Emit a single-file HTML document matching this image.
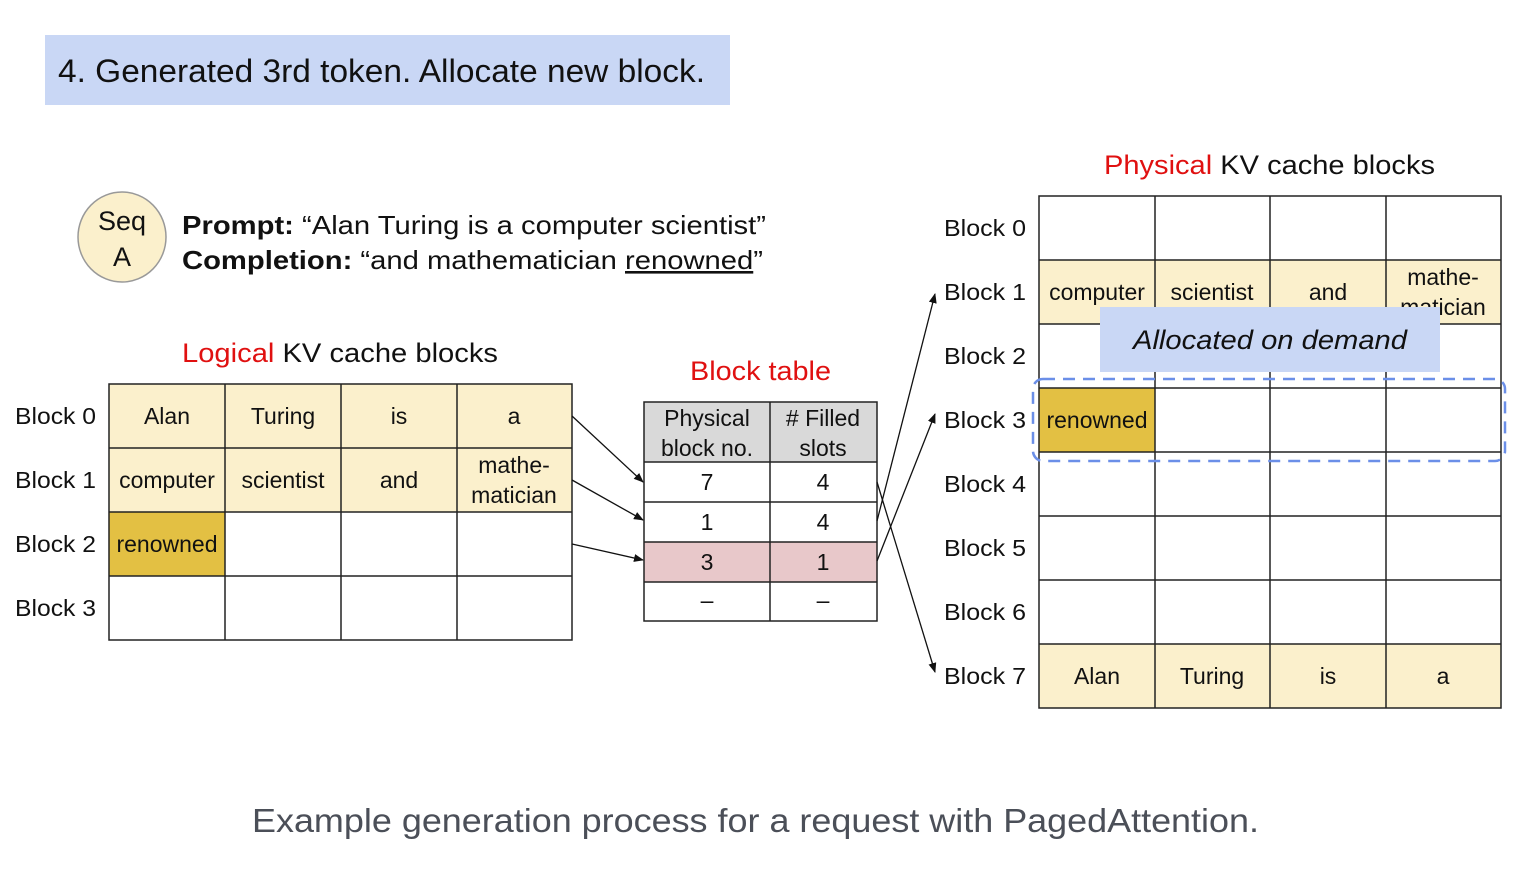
<!DOCTYPE html>
<html><head><meta charset="utf-8"><style>
html,body{margin:0;padding:0;background:#fff;width:1540px;height:874px;overflow:hidden}
svg{display:block}
text{font-family:"Liberation Sans",Arial,sans-serif;fill:#111}
</style></head><body>
<svg width="1540" height="874" viewBox="0 0 1540 874" xmlns="http://www.w3.org/2000/svg">
<defs><marker id="ah" markerWidth="10" markerHeight="8" refX="9" refY="4" orient="auto" markerUnits="userSpaceOnUse"><path d="M0,0 L10,4 L0,8 z" fill="#111"/></marker></defs>
<rect x="45" y="35" width="685" height="70" fill="#c9d7f5"/>
<text x="58" y="82" font-size="32" textLength="647" lengthAdjust="spacingAndGlyphs">4. Generated 3rd token. Allocate new block.</text>
<ellipse cx="122" cy="237" rx="44" ry="45" fill="#fbf0cc" stroke="#999" stroke-width="1.5"/>
<text x="122" y="230" font-size="27" text-anchor="middle">Seq</text>
<text x="122" y="266" font-size="27" text-anchor="middle">A</text>
<text x="182" y="234" font-size="26" textLength="584" lengthAdjust="spacingAndGlyphs"><tspan font-weight="bold">Prompt:</tspan> “Alan Turing is a computer scientist”</text>
<text x="182" y="269" font-size="26" textLength="581" lengthAdjust="spacingAndGlyphs"><tspan font-weight="bold">Completion:</tspan> “and mathematician <tspan text-decoration="underline">renowned</tspan>”</text>
<line x1="625" y1="272" x2="753" y2="272" stroke="#111" stroke-width="2"/>
<text x="182" y="362" font-size="27" textLength="316" lengthAdjust="spacingAndGlyphs"><tspan fill="#e01010">Logical</tspan> KV cache blocks</text>
<rect x="109" y="384" width="463" height="128" fill="#fbf0cc"/>
<rect x="109" y="512" width="116" height="64" fill="#e3c043"/>
<g stroke="#222" stroke-width="1.5" fill="none">
<rect x="109" y="384" width="463" height="256"/>
<line x1="225" y1="384" x2="225" y2="640"/><line x1="341" y1="384" x2="341" y2="640"/><line x1="457" y1="384" x2="457" y2="640"/>
<line x1="109" y1="448" x2="572" y2="448"/><line x1="109" y1="512" x2="572" y2="512"/><line x1="109" y1="576" x2="572" y2="576"/>
</g>
<g font-size="23">
<text x="15" y="424" textLength="81" lengthAdjust="spacingAndGlyphs">Block 0</text><text x="15" y="488" textLength="81" lengthAdjust="spacingAndGlyphs">Block 1</text><text x="15" y="552" textLength="81" lengthAdjust="spacingAndGlyphs">Block 2</text><text x="15" y="616" textLength="81" lengthAdjust="spacingAndGlyphs">Block 3</text>
</g>
<g font-size="23" text-anchor="middle">
<text x="167" y="424">Alan</text><text x="283" y="424">Turing</text><text x="399" y="424">is</text><text x="514" y="424">a</text>
<text x="167" y="488">computer</text><text x="283" y="488">scientist</text><text x="399" y="488">and</text>
<text x="514" y="473">mathe-</text><text x="514" y="503">matician</text>
<text x="167" y="552">renowned</text>
</g>
<text x="690" y="380" font-size="27" textLength="141" lengthAdjust="spacingAndGlyphs" style="fill:#e01010">Block table</text>
<rect x="644" y="402" width="233" height="60" fill="#d9d9d9"/>
<rect x="644" y="542" width="233" height="40" fill="#e8c8ca"/>
<g stroke="#222" stroke-width="1.5" fill="none">
<rect x="644" y="402" width="233" height="219"/>
<line x1="770" y1="402" x2="770" y2="621"/>
<line x1="644" y1="462" x2="877" y2="462"/><line x1="644" y1="502" x2="877" y2="502"/><line x1="644" y1="542" x2="877" y2="542"/><line x1="644" y1="582" x2="877" y2="582"/>
</g>
<g font-size="23" text-anchor="middle">
<text x="707" y="426">Physical</text><text x="707" y="456">block no.</text>
<text x="823" y="426"># Filled</text><text x="823" y="456">slots</text>
<text x="707" y="490">7</text><text x="823" y="490">4</text>
<text x="707" y="530">1</text><text x="823" y="530">4</text>
<text x="707" y="570">3</text><text x="823" y="570">1</text>
<text x="707" y="608">–</text><text x="823" y="608">–</text>
</g>
<g stroke="#111" stroke-width="1.3" fill="none" marker-end="url(#ah)">
<line x1="572" y1="416" x2="643" y2="482"/>
<line x1="572" y1="480" x2="643" y2="520"/>
<line x1="572" y1="544" x2="643" y2="560"/>
<line x1="877" y1="482" x2="935" y2="672"/>
<line x1="877" y1="521" x2="935" y2="294"/>
<line x1="877" y1="561" x2="935" y2="414"/>
</g>
<text x="1104" y="174" font-size="27" textLength="331" lengthAdjust="spacingAndGlyphs"><tspan style="fill:#e01010">Physical</tspan> KV cache blocks</text>
<rect x="1039" y="260" width="462" height="64" fill="#fbf0cc"/>
<rect x="1039" y="644" width="462" height="64" fill="#fbf0cc"/>
<rect x="1039" y="388" width="116" height="64" fill="#e3c043"/>
<g stroke="#222" stroke-width="1.5" fill="none">
<rect x="1039" y="196" width="462" height="512"/>
<line x1="1155" y1="196" x2="1155" y2="708"/><line x1="1270" y1="196" x2="1270" y2="708"/><line x1="1386" y1="196" x2="1386" y2="708"/>
<line x1="1039" y1="260" x2="1501" y2="260"/><line x1="1039" y1="324" x2="1501" y2="324"/><line x1="1039" y1="388" x2="1501" y2="388"/>
<line x1="1039" y1="452" x2="1501" y2="452"/><line x1="1039" y1="516" x2="1501" y2="516"/><line x1="1039" y1="580" x2="1501" y2="580"/><line x1="1039" y1="644" x2="1501" y2="644"/>
</g>
<g font-size="23">
<text x="944" y="236" textLength="82" lengthAdjust="spacingAndGlyphs">Block 0</text><text x="944" y="300" textLength="82" lengthAdjust="spacingAndGlyphs">Block 1</text><text x="944" y="364" textLength="82" lengthAdjust="spacingAndGlyphs">Block 2</text><text x="944" y="428" textLength="82" lengthAdjust="spacingAndGlyphs">Block 3</text>
<text x="944" y="492" textLength="82" lengthAdjust="spacingAndGlyphs">Block 4</text><text x="944" y="556" textLength="82" lengthAdjust="spacingAndGlyphs">Block 5</text><text x="944" y="620" textLength="82" lengthAdjust="spacingAndGlyphs">Block 6</text><text x="944" y="684" textLength="82" lengthAdjust="spacingAndGlyphs">Block 7</text>
</g>
<g font-size="23" text-anchor="middle">
<text x="1097" y="300">computer</text><text x="1212" y="300">scientist</text><text x="1328" y="300">and</text>
<text x="1443" y="285">mathe-</text><text x="1443" y="315">matician</text>
<text x="1097" y="428">renowned</text>
<text x="1097" y="684">Alan</text><text x="1212" y="684">Turing</text><text x="1328" y="684">is</text><text x="1443" y="684">a</text>
</g>
<rect x="1100" y="307" width="340" height="65" fill="#c9d7f5"/>
<text x="1270" y="349" font-size="27" font-style="italic" text-anchor="middle" textLength="274" lengthAdjust="spacingAndGlyphs">Allocated on demand</text>
<rect x="1033" y="379" width="472" height="82" rx="10" fill="none" stroke="#6b8fe8" stroke-width="2.5" stroke-dasharray="12,8"/>
<text x="252" y="832" font-size="33" style="fill:#4b4f58" textLength="1007" lengthAdjust="spacingAndGlyphs">Example generation process for a request with PagedAttention.</text>
</svg>
</body></html>
